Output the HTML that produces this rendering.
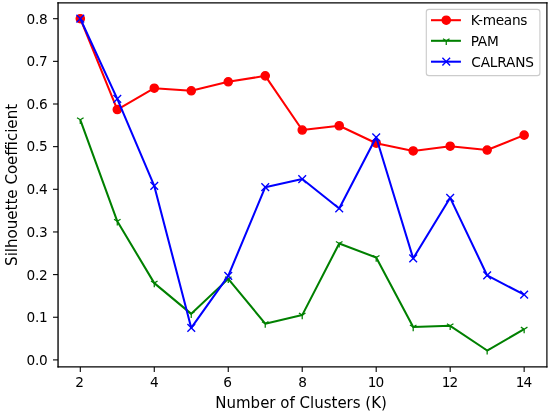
<!DOCTYPE html>
<html><head><meta charset="utf-8"><title>Silhouette Coefficient</title>
<style>html,body{margin:0;padding:0;background:#fff}svg{display:block}text{font-family:"DejaVu Sans","Liberation Sans",sans-serif;fill:#000}</style></head><body>
<svg width="550" height="414" viewBox="0 0 550 414">
<rect width="550" height="414" fill="#fff"/>
<g fill="none" stroke-linejoin="round" stroke-linecap="butt">
<polyline points="80.30,18.70 117.29,109.54 154.27,88.22 191.26,90.78 228.25,81.82 265.24,75.85 302.22,130.02 339.21,125.75 376.20,143.24 413.19,150.91 450.18,146.22 487.16,150.06 524.15,135.13" stroke="#ff0000" stroke-width="2.05"/>
<circle cx="80.30" cy="18.70" r="4.10" fill="#ff0000" stroke="#ff0000" stroke-width="1.37"/>
<circle cx="117.29" cy="109.54" r="4.10" fill="#ff0000" stroke="#ff0000" stroke-width="1.37"/>
<circle cx="154.27" cy="88.22" r="4.10" fill="#ff0000" stroke="#ff0000" stroke-width="1.37"/>
<circle cx="191.26" cy="90.78" r="4.10" fill="#ff0000" stroke="#ff0000" stroke-width="1.37"/>
<circle cx="228.25" cy="81.82" r="4.10" fill="#ff0000" stroke="#ff0000" stroke-width="1.37"/>
<circle cx="265.24" cy="75.85" r="4.10" fill="#ff0000" stroke="#ff0000" stroke-width="1.37"/>
<circle cx="302.22" cy="130.02" r="4.10" fill="#ff0000" stroke="#ff0000" stroke-width="1.37"/>
<circle cx="339.21" cy="125.75" r="4.10" fill="#ff0000" stroke="#ff0000" stroke-width="1.37"/>
<circle cx="376.20" cy="143.24" r="4.10" fill="#ff0000" stroke="#ff0000" stroke-width="1.37"/>
<circle cx="413.19" cy="150.91" r="4.10" fill="#ff0000" stroke="#ff0000" stroke-width="1.37"/>
<circle cx="450.18" cy="146.22" r="4.10" fill="#ff0000" stroke="#ff0000" stroke-width="1.37"/>
<circle cx="487.16" cy="150.06" r="4.10" fill="#ff0000" stroke="#ff0000" stroke-width="1.37"/>
<circle cx="524.15" cy="135.13" r="4.10" fill="#ff0000" stroke="#ff0000" stroke-width="1.37"/>
<polyline points="80.30,119.78 117.29,221.29 154.27,283.13 191.26,313.84 228.25,278.87 265.24,323.65 302.22,315.12 339.21,243.47 376.20,257.54 413.19,327.06 450.18,325.78 487.16,350.52 524.15,329.19" stroke="#008000" stroke-width="2.05"/>
<path d="M80.30 119.78L80.30 123.88M80.30 119.78L83.58 117.73M80.30 119.78L77.02 117.73" stroke="#008000" stroke-width="1.25"/>
<path d="M117.29 221.29L117.29 225.39M117.29 221.29L120.57 219.24M117.29 221.29L114.01 219.24" stroke="#008000" stroke-width="1.25"/>
<path d="M154.27 283.13L154.27 287.23M154.27 283.13L157.55 281.08M154.27 283.13L150.99 281.08" stroke="#008000" stroke-width="1.25"/>
<path d="M191.26 313.84L191.26 317.94M191.26 313.84L194.54 311.79M191.26 313.84L187.98 311.79" stroke="#008000" stroke-width="1.25"/>
<path d="M228.25 278.87L228.25 282.97M228.25 278.87L231.53 276.81M228.25 278.87L224.97 276.81" stroke="#008000" stroke-width="1.25"/>
<path d="M265.24 323.65L265.24 327.75M265.24 323.65L268.52 321.60M265.24 323.65L261.96 321.60" stroke="#008000" stroke-width="1.25"/>
<path d="M302.22 315.12L302.22 319.22M302.22 315.12L305.50 313.07M302.22 315.12L298.94 313.07" stroke="#008000" stroke-width="1.25"/>
<path d="M339.21 243.47L339.21 247.57M339.21 243.47L342.49 241.42M339.21 243.47L335.93 241.42" stroke="#008000" stroke-width="1.25"/>
<path d="M376.20 257.54L376.20 261.64M376.20 257.54L379.48 255.49M376.20 257.54L372.92 255.49" stroke="#008000" stroke-width="1.25"/>
<path d="M413.19 327.06L413.19 331.16M413.19 327.06L416.47 325.01M413.19 327.06L409.91 325.01" stroke="#008000" stroke-width="1.25"/>
<path d="M450.18 325.78L450.18 329.88M450.18 325.78L453.45 323.73M450.18 325.78L446.90 323.73" stroke="#008000" stroke-width="1.25"/>
<path d="M487.16 350.52L487.16 354.62M487.16 350.52L490.44 348.47M487.16 350.52L483.88 348.47" stroke="#008000" stroke-width="1.25"/>
<path d="M524.15 329.19L524.15 333.29M524.15 329.19L527.43 327.14M524.15 329.19L520.87 327.14" stroke="#008000" stroke-width="1.25"/>
<polyline points="80.30,18.70 117.29,98.88 154.27,185.89 191.26,327.91 228.25,275.88 265.24,187.17 302.22,179.06 339.21,208.49 376.20,137.27 413.19,258.39 450.18,197.83 487.16,275.45 524.15,294.65" stroke="#0000ff" stroke-width="2.05"/>
<path d="M76.45 14.85L84.15 22.55M76.45 22.55L84.15 14.85" stroke="#0000ff" stroke-width="1.37"/>
<path d="M113.44 95.03L121.14 102.73M113.44 102.73L121.14 95.03" stroke="#0000ff" stroke-width="1.37"/>
<path d="M150.42 182.04L158.12 189.74M150.42 189.74L158.12 182.04" stroke="#0000ff" stroke-width="1.37"/>
<path d="M187.41 324.06L195.11 331.76M187.41 331.76L195.11 324.06" stroke="#0000ff" stroke-width="1.37"/>
<path d="M224.40 272.03L232.10 279.73M224.40 279.73L232.10 272.03" stroke="#0000ff" stroke-width="1.37"/>
<path d="M261.39 183.32L269.09 191.02M261.39 191.02L269.09 183.32" stroke="#0000ff" stroke-width="1.37"/>
<path d="M298.37 175.21L306.07 182.91M298.37 182.91L306.07 175.21" stroke="#0000ff" stroke-width="1.37"/>
<path d="M335.36 204.64L343.06 212.34M335.36 212.34L343.06 204.64" stroke="#0000ff" stroke-width="1.37"/>
<path d="M372.35 133.42L380.05 141.12M372.35 141.12L380.05 133.42" stroke="#0000ff" stroke-width="1.37"/>
<path d="M409.34 254.54L417.04 262.24M409.34 262.24L417.04 254.54" stroke="#0000ff" stroke-width="1.37"/>
<path d="M446.32 193.98L454.03 201.68M446.32 201.68L454.03 193.98" stroke="#0000ff" stroke-width="1.37"/>
<path d="M483.31 271.60L491.01 279.30M483.31 279.30L491.01 271.60" stroke="#0000ff" stroke-width="1.37"/>
<path d="M520.30 290.80L528.00 298.50M520.30 298.50L528.00 290.80" stroke="#0000ff" stroke-width="1.37"/>
</g>
<g stroke="#000" stroke-linecap="square">
<line x1="58.05" y1="2.85" x2="58.05" y2="366.90" stroke-width="1.35"/>
<line x1="546.90" y1="2.85" x2="546.90" y2="366.90" stroke-width="1.2"/>
<line x1="58.05" y1="2.85" x2="546.90" y2="2.85" stroke-width="1.3"/>
<line x1="58.05" y1="366.85" x2="546.90" y2="366.85" stroke-width="1.12"/>
</g>
<g stroke="#000" stroke-width="1.09">
<line x1="80.30" y1="366.90" x2="80.30" y2="371.89"/>
<line x1="154.27" y1="366.90" x2="154.27" y2="371.89"/>
<line x1="228.25" y1="366.90" x2="228.25" y2="371.89"/>
<line x1="302.22" y1="366.90" x2="302.22" y2="371.89"/>
<line x1="376.20" y1="366.90" x2="376.20" y2="371.89"/>
<line x1="450.18" y1="366.90" x2="450.18" y2="371.89"/>
<line x1="524.15" y1="366.90" x2="524.15" y2="371.89"/>
<line x1="58.00" y1="359.90" x2="53.01" y2="359.90"/>
<line x1="58.00" y1="317.25" x2="53.01" y2="317.25"/>
<line x1="58.00" y1="274.60" x2="53.01" y2="274.60"/>
<line x1="58.00" y1="231.95" x2="53.01" y2="231.95"/>
<line x1="58.00" y1="189.30" x2="53.01" y2="189.30"/>
<line x1="58.00" y1="146.65" x2="53.01" y2="146.65"/>
<line x1="58.00" y1="104.00" x2="53.01" y2="104.00"/>
<line x1="58.00" y1="61.35" x2="53.01" y2="61.35"/>
<line x1="58.00" y1="18.70" x2="53.01" y2="18.70"/>
</g>
<g font-size="13.68" letter-spacing="-0.3">
<text x="79.40" y="386.9" text-anchor="middle">2</text>
<text x="154.12" y="386.9" text-anchor="middle">4</text>
<text x="227.40" y="386.9" text-anchor="middle">6</text>
<text x="302.43" y="386.9" text-anchor="middle">8</text>
<text x="375.60" y="386.9" text-anchor="middle" letter-spacing="-0.9">10</text>
<text x="449.48" y="386.9" text-anchor="middle" letter-spacing="-0.9">12</text>
<text x="523.55" y="386.9" text-anchor="middle" letter-spacing="-0.9">14</text>
<text x="47.4" y="365" text-anchor="end">0.0</text>
<text x="47.4" y="322" text-anchor="end">0.1</text>
<text x="47.4" y="280" text-anchor="end">0.2</text>
<text x="47.4" y="237" text-anchor="end">0.3</text>
<text x="47.4" y="194" text-anchor="end">0.4</text>
<text x="47.4" y="151" text-anchor="end">0.5</text>
<text x="47.4" y="109" text-anchor="end">0.6</text>
<text x="47.4" y="66" text-anchor="end">0.7</text>
<text x="47.4" y="24" text-anchor="end">0.8</text>
</g>
<text x="301.10" y="407.6" font-size="15.00" text-anchor="middle">Number of Clusters (K)</text>
<text transform="translate(16.9 184.92) rotate(-90)" font-size="15.05" text-anchor="middle">Silhouette Coefficient</text>
<rect x="426.30" y="9.40" width="113.60" height="66.25" rx="2.7" ry="2.7" fill="#fff" fill-opacity="0.8" stroke="#cccccc" stroke-width="1.15"/>
<g fill="none">
<line x1="432.00" y1="20.20" x2="459.90" y2="20.20" stroke="#ff0000" stroke-linecap="square" stroke-width="2.05"/>
<circle cx="446.25" cy="20.20" r="4.10" fill="#ff0000" stroke="#ff0000" stroke-width="1.37"/>
<line x1="432.00" y1="40.80" x2="459.90" y2="40.80" stroke="#008000" stroke-linecap="square" stroke-width="2.05"/>
<path d="M446.25 40.80L446.25 44.90M446.25 40.80L449.53 38.75M446.25 40.80L442.97 38.75" stroke="#008000" stroke-width="1.25"/>
<line x1="432.00" y1="61.70" x2="459.90" y2="61.70" stroke="#0000ff" stroke-linecap="square" stroke-width="2.05"/>
<path d="M442.40 57.85L450.10 65.55M442.40 65.55L450.10 57.85" stroke="#0000ff" stroke-width="1.37"/>
</g>
<g font-size="13.68" letter-spacing="-0.28">
<text x="470.74" y="25.00" letter-spacing="-0.28">K-means</text>
<text x="470.74" y="45.60" letter-spacing="-0.28">PAM</text>
<text x="471.34" y="66.50" letter-spacing="-0.18">CALRANS</text>
</g>
</svg></body></html>
